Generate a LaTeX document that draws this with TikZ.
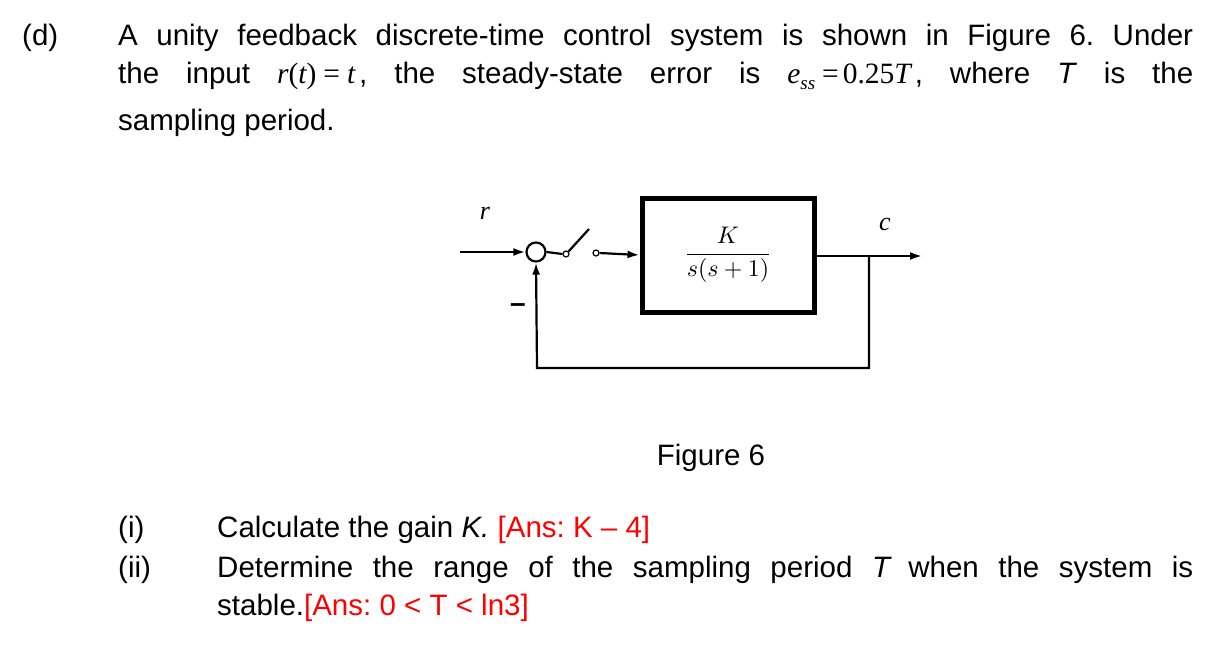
\documentclass[tikz,border=0pt]{standalone}
\usepackage{fontspec}
\usepackage{graphicx}
\setmainfont{Liberation Sans}
\newfontfamily\serifm{Liberation Serif}
\usetikzlibrary{arrows.meta}
\begin{document}
\frenchspacing
\begin{tikzpicture}[x=1pt,y=-1pt,
  txt/.style={anchor=base west,inner sep=0pt,font=\fontsize{29.5}{35}\selectfont\frenchspacing},
  wire/.style={line width=2.2pt},
  arr/.style={wire,-{Latex[length=12pt,width=8pt]}}]
\useasboundingbox (0,0) rectangle (1220,646);
\fill[white] (0,0) rectangle (1220,646);
\newcommand{\mi}[1]{{\serifm\itshape #1}}
\newcommand{\mr}[1]{{\serifm #1}}
\newcommand{\fixsp}{\hspace{7pt}}
\node[txt] (d) at (22,45) {(d)};
\node[txt] (l1) at (118,45) {\makebox[1075pt][s]{A unity feedback discrete-time control system is shown in Figure 6. Under}};
\node[txt] (l2) at (118,83) {\makebox[1075pt][s]{the input \mi{r}\mr{(}\mi{t}\mr{)}\fixsp\mr{=}\fixsp\mi{t}\hspace{4pt}, the steady-state error is \mi{e}\raisebox{-6pt}{\fontsize{19}{20}\selectfont\mi{ss}}\fixsp\mr{=}\hspace{4pt}\mr{0.25}\mi{T}\hspace{4pt}, where \textit{T} is the}};
\node[txt] (l3) at (118,130) {sampling period.};
\node[txt,anchor=base] (fig) at (711,465) {Figure 6};
\node[txt] (i) at (118,537) {(i)};
\node[txt] (it) at (217,537) {Calculate the gain \textit{K.} \textcolor{red}{[Ans: K – 4]}};
\node[txt] (ii) at (118,577) {(ii)};
\node[txt] (iit) at (217,577) {\makebox[976pt][s]{Determine the range of the sampling period \textit{T}\hspace{-3pt} when the system is}};
\node[txt] (iit2) at (217,615) {stable.\textcolor{red}{[Ans: 0 < T < ln3]}};
% diagram
\coordinate (in) at (460,252);
\node[circle,draw,line width=2.2pt,minimum size=19pt,inner sep=0pt] (sum) at (536,252) {};
\node[circle,draw,line width=1.2pt,minimum size=6pt,inner sep=0pt] (s1) at (566,254) {};
\node[circle,draw,line width=1.2pt,minimum size=6pt,inner sep=0pt] (s2) at (596,253) {};
\coordinate (blade) at (589,229);
\node[draw,line width=5pt,minimum width=172pt,minimum height=114pt,inner sep=0pt] (G) at (728,255)
  {\scalebox{2.4}{$\displaystyle\frac{K}{s(s+1)}$}};
\coordinate (br) at (869,256);
\coordinate (out) at (922,256);
\coordinate (c1) at (869,368);
\coordinate (c2) at (537,368);
\draw[arr] (in) -- (sum.west);
\draw[wire] (sum.east) -- (s1.west);
\draw[wire] (s1.north east) -- (blade);
\draw[arr] (s2.east) -- (G.west);
\draw[arr] (G.east |- br) -- (out);
\draw[arr] (br) -- (c1) -- (c2) -- (sum.south);
\node[font=\fontsize{26}{28}\selectfont\serifm\itshape] (r) at (485,213) {r};
\node[font=\fontsize{26}{28}\selectfont\serifm\itshape] (c) at (885,224) {c};
\node[font=\fontsize{28}{28}\selectfont\bfseries] (minus) at (518,308) {–};
\end{tikzpicture}
\end{document}
